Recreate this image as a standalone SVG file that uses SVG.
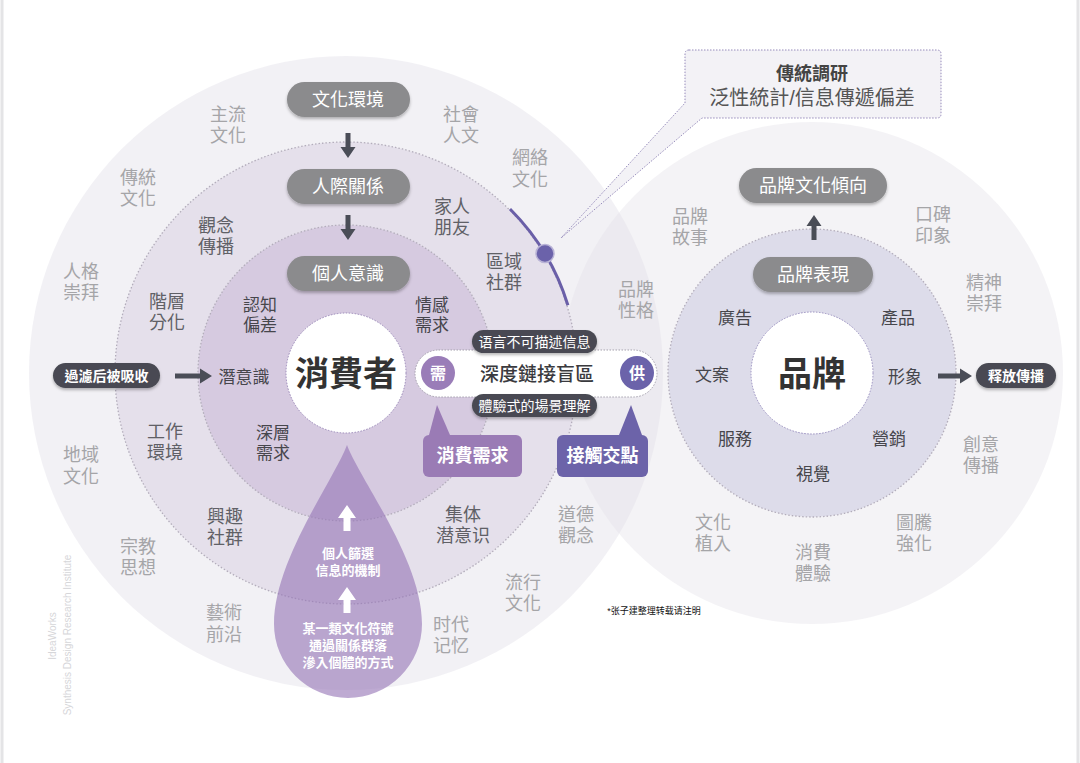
<svg xmlns="http://www.w3.org/2000/svg" width="1080" height="763" viewBox="0 0 1080 763">
<defs>
<filter id="sh" x="-20%" y="-30%" width="140%" height="170%">
<feDropShadow dx="0" dy="2" stdDeviation="1.5" flood-color="#000" flood-opacity="0.28"/>
</filter>
<style>
text{font-family:"Liberation Sans","Noto Sans CJK TC","Noto Sans CJK SC",sans-serif;text-anchor:middle;dominant-baseline:central}
tspan{dominant-baseline:central}
.o{font-size:18px;fill:#a5a5a8}
.m{font-size:18px;fill:#606066}
.i{font-size:17px;fill:#46464c}
.pill{fill:#8b8b8d}
.pt{font-size:18px;fill:#fff}
.dk{fill:#484a52}
.dt{font-size:14px;fill:#fff}
.arr{fill:#4a4d57}
.ring{stroke:#b3adbb;stroke-width:1.3;stroke-dasharray:1.5 2}
.wt{font-size:13px;fill:#fff;font-weight:bold}
.wm{font-size:10px;fill:#d6d6d9}
</style>
</defs>
<rect width="1080" height="763" fill="#fff"/>
<line x1="2" y1="0" x2="2" y2="763" stroke="#e4e4e6" stroke-width="3"/>
<line x1="1078" y1="0" x2="1078" y2="763" stroke="#e4e4e6" stroke-width="3"/>

<g id="rings">
<circle cx="346" cy="373" r="317" fill="#e3e1e8" fill-opacity="0.45"/>
<circle cx="812" cy="373" r="251" fill="#e3e1e8" fill-opacity="0.4"/>
<circle cx="346" cy="373" r="231" fill="#e5e0eb" class="ring"/>
<circle cx="346" cy="373" r="148" fill="#d6cae0" class="ring"/>
<circle cx="346" cy="373" r="60" fill="#fff" stroke="#9a88b8" stroke-width="1" stroke-dasharray="1.5 1.5"/>
<circle cx="812" cy="373" r="144" fill="#dddcea" class="ring"/>
<circle cx="812" cy="373" r="61" fill="#fff" stroke="#9a90c0" stroke-width="1" stroke-dasharray="1.5 1.5"/>
</g>

<g id="watermark">
<text class="wm" transform="translate(52,636) rotate(-90)">IdeaWorks</text>
<text class="wm" transform="translate(67,635) rotate(-90)">Synthesis Design Research Institute</text>
</g>

<g id="outer-labels">
<text class="o" x="228" y="115"><tspan x="228">主流</tspan><tspan x="228" dy="21">文化</tspan></text>
<text class="o" x="461" y="115"><tspan x="461">社會</tspan><tspan x="461" dy="21">人文</tspan></text>
<text class="o" x="530" y="158"><tspan x="530">網絡</tspan><tspan x="530" dy="22">文化</tspan></text>
<text class="o" x="138" y="178"><tspan x="138">傳統</tspan><tspan x="138" dy="21">文化</tspan></text>
<text class="o" x="81" y="272"><tspan x="81">人格</tspan><tspan x="81" dy="21">崇拜</tspan></text>
<text class="o" x="81" y="455"><tspan x="81">地域</tspan><tspan x="81" dy="22">文化</tspan></text>
<text class="o" x="138" y="547"><tspan x="138">宗教</tspan><tspan x="138" dy="21">思想</tspan></text>
<text class="o" x="224" y="613"><tspan x="224">藝術</tspan><tspan x="224" dy="22">前沿</tspan></text>
<text class="o" x="451" y="625"><tspan x="451">时代</tspan><tspan x="451" dy="21">记忆</tspan></text>
<text class="o" x="523" y="583"><tspan x="523">流行</tspan><tspan x="523" dy="21">文化</tspan></text>
<text class="o" x="576" y="515"><tspan x="576">道德</tspan><tspan x="576" dy="21">觀念</tspan></text>
<text class="o" x="690" y="217"><tspan x="690">品牌</tspan><tspan x="690" dy="21">故事</tspan></text>
<text class="o" x="933" y="215"><tspan x="933">口碑</tspan><tspan x="933" dy="21">印象</tspan></text>
<text class="o" x="636" y="290"><tspan x="636">品牌</tspan><tspan x="636" dy="21">性格</tspan></text>
<text class="o" x="984" y="283"><tspan x="984">精神</tspan><tspan x="984" dy="21">崇拜</tspan></text>
<text class="o" x="981" y="445"><tspan x="981">創意</tspan><tspan x="981" dy="21">傳播</tspan></text>
<text class="o" x="713" y="523"><tspan x="713">文化</tspan><tspan x="713" dy="21">植入</tspan></text>
<text class="o" x="813" y="553"><tspan x="813">消費</tspan><tspan x="813" dy="21">體驗</tspan></text>
<text class="o" x="914" y="523"><tspan x="914">圖騰</tspan><tspan x="914" dy="21">強化</tspan></text>
</g>

<g id="middle-labels">
<text class="m" x="216" y="226"><tspan x="216">觀念</tspan><tspan x="216" dy="20.5">傳播</tspan></text>
<text class="m" x="452" y="207"><tspan x="452">家人</tspan><tspan x="452" dy="20.5">朋友</tspan></text>
<text class="m" x="504" y="262"><tspan x="504">區域</tspan><tspan x="504" dy="20.5">社群</tspan></text>
<text class="m" x="167" y="302"><tspan x="167">階層</tspan><tspan x="167" dy="20.5">分化</tspan></text>
<text class="m" x="165" y="432"><tspan x="165">工作</tspan><tspan x="165" dy="20.5">環境</tspan></text>
<text class="m" x="225" y="517"><tspan x="225">興趣</tspan><tspan x="225" dy="20.5">社群</tspan></text>
<text class="m" x="463" y="515"><tspan x="463">集体</tspan><tspan x="463" dy="21">潜意识</tspan></text>
</g>

<g id="inner-labels">
<text class="i" x="260" y="305"><tspan x="260">認知</tspan><tspan x="260" dy="19.5">偏差</tspan></text>
<text class="i" x="432" y="305"><tspan x="432">情感</tspan><tspan x="432" dy="19.5">需求</tspan></text>
<text class="i" x="244" y="377">潛意識</text>
<text class="i" x="273" y="433"><tspan x="273">深層</tspan><tspan x="273" dy="19.5">需求</tspan></text>
<text class="i" x="735" y="318">廣告</text>
<text class="i" x="898" y="318">產品</text>
<text class="i" x="712" y="375">文案</text>
<text class="i" x="905" y="377">形象</text>
<text class="i" x="735" y="439">服務</text>
<text class="i" x="889" y="439">營銷</text>
<text class="i" x="813" y="474">視覺</text>
</g>

<g id="connectors">
<polygon class="arr" points="345.5,133 350.5,133 350.5,147 355.5,147 348,158 340.5,147 345.5,147"/>
<polygon class="arr" points="345.5,215 350.5,215 350.5,229 355.5,229 348,240 340.5,229 345.5,229"/>
<polygon class="arr" points="811.5,240 816.5,240 816.5,226 821.5,226 814,215 806.5,226 811.5,226"/>
<polygon class="arr" points="175,373.5 200,373.5 200,368.5 212,376 200,383.5 200,378.5 175,378.5"/>
<polygon class="arr" points="938,373.5 960,373.5 960,368.5 972,376 960,383.5 960,378.5 938,378.5"/>
<path d="M510,209 A232,232 0 0,1 567.9,305.2" fill="none" stroke="#6a5fa8" stroke-width="3"/>
<circle cx="545" cy="253.5" r="9" fill="#6b62aa" stroke="#b9b3d6" stroke-width="1.5"/>
</g>

<g id="callout">
<path d="M689,50 H937 Q941,50 941,54 V114 Q941,118 937,118 H702 L561,238 L685,103 V54 Q685,50 689,50 Z" fill="#f3f2f6" stroke="#968bbb" stroke-width="1" stroke-dasharray="1.5 1.5"/>
<text x="812" y="74" style="font-size:18px;font-weight:bold;fill:#444">傳統調研</text>
<text x="812" y="98" style="font-size:20px;fill:#555">泛性統計/信息傳遞偏差</text>
</g>

<g id="node-culture"><rect x="287" y="82" width="123" height="35" rx="17.5" class="pill" filter="url(#sh)"/><text class="pt" x="348" y="99.5">文化環境</text></g>
<g id="node-relation"><rect x="287" y="169" width="123" height="35" rx="17.5" class="pill" filter="url(#sh)"/><text class="pt" x="348" y="186.5">人際關係</text></g>
<g id="node-personal"><rect x="287" y="256" width="123" height="35" rx="17.5" class="pill" filter="url(#sh)"/><text class="pt" x="348" y="273.5">個人意識</text></g>
<g id="node-brandculture"><rect x="739" y="168" width="148" height="35" rx="17.5" class="pill" filter="url(#sh)"/><text class="pt" x="813" y="185.5">品牌文化傾向</text></g>
<g id="node-brandperf"><rect x="753" y="257" width="120" height="35" rx="17.5" class="pill" filter="url(#sh)"/><text class="pt" x="813" y="274.5">品牌表現</text></g>

<g id="node-consumer"><text x="346" y="374" style="font-size:34px;font-weight:bold;fill:#333">消費者</text></g>
<g id="node-brand"><text x="812" y="374" style="font-size:34px;font-weight:bold;fill:#333">品牌</text></g>

<g id="node-filter"><rect x="53" y="363" width="107" height="25" rx="12.5" class="dk" filter="url(#sh)"/><text class="dt" x="106.5" y="375.5" style="font-weight:bold">過濾后被吸收</text></g>
<g id="node-release"><rect x="976" y="363" width="80" height="25" rx="12.5" class="dk" filter="url(#sh)"/><text class="dt" x="1016" y="375.5" style="font-weight:bold">释放傳播</text></g>

<g id="node-blind">
<rect x="415" y="350" width="242" height="47" rx="23.5" fill="#fff" stroke="#a6a2ae" stroke-width="1" stroke-dasharray="1.5 1.5"/>
<text x="537" y="374" style="font-size:19px;font-weight:500;fill:#3a3a3e">深度鏈接盲區</text>
<circle cx="438" cy="373" r="17" fill="#9a7db8"/><text x="438" y="373" style="font-size:16px;font-weight:bold;fill:#fff">需</text>
<circle cx="637" cy="373" r="17" fill="#6b63aa"/><text x="637" y="373" style="font-size:16px;font-weight:bold;fill:#fff">供</text>
</g>
<g id="node-lang"><rect x="472" y="330" width="125" height="23" rx="11.5" class="dk" filter="url(#sh)"/><text class="dt" x="534.5" y="341.5">语言不可描述信息</text></g>
<g id="node-exp"><rect x="472" y="394" width="125" height="23" rx="11.5" class="dk" filter="url(#sh)"/><text class="dt" x="534.5" y="405.5">體驗式的場景理解</text></g>

<g id="node-demand">
<path d="M429,435 L437,405 L450,435 Z" fill="#9a7bb5"/>
<rect x="423" y="435" width="99" height="42" rx="6" fill="#9a7bb5"/>
<text x="472.5" y="456" style="font-size:18px;font-weight:bold;fill:#fff">消費需求</text>
</g>
<g id="node-touch">
<path d="M619,435 L631,405 L642,435 Z" fill="#6c63a9"/>
<rect x="557" y="435" width="91" height="42" rx="6" fill="#6c63a9"/>
<text x="602.5" y="456" style="font-size:18px;font-weight:bold;fill:#fff">接觸交點</text>
</g>

<g id="node-drop">
<path d="M347,445 C360,480 422,560 422,624 A74,74 0 0,1 274,624 C274,560 334,480 347,445 Z" fill="#9676b6" fill-opacity="0.62"/>
<polygon fill="#fff" points="347,505 356,518 350.5,518 350.5,531 343.5,531 343.5,518 338,518"/>
<polygon fill="#fff" points="347,587 356,600 350.5,600 350.5,613 343.5,613 343.5,600 338,600"/>
<text class="wt" x="348" y="553"><tspan x="348">個人篩選</tspan><tspan x="348" dy="17">信息的機制</tspan></text>
<text class="wt" x="348" y="628"><tspan x="348">某一類文化符號</tspan><tspan x="348" dy="17">通過關係群落</tspan><tspan x="348" dy="17">滲入個體的方式</tspan></text>
</g>

<g id="footnote"><text x="654" y="611" style="font-size:9px;fill:#111">*张子建整理转载请注明</text></g>
</svg>
